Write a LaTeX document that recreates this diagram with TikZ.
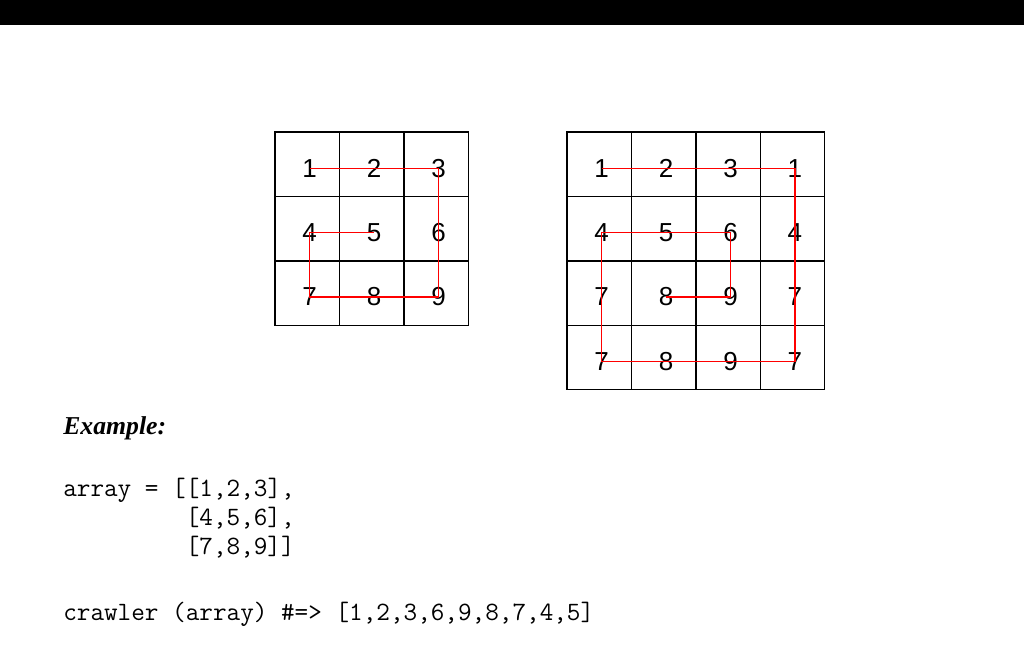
\documentclass[tikz,border=0pt]{standalone}
\usepackage{fontspec}
\setmainfont{Liberation Sans}
\newfontfamily\titleface{Liberation Serif}

\begin{document}
\begin{tikzpicture}[x = 0.025cm, y = -0.025cm]
	\tikzstyle{cellStyle} = [inner sep = 0pt, font = \fontsize{18.5}{18.5}\selectfont]
	\tikzstyle{gridStyle} = [draw = black, line width = 1pt]
	\tikzstyle{pathStyle} = [draw = red, line width = 1pt]
	\tikzstyle{codeStyle} = [anchor = base west, inner sep = 0pt, font = \fontsize{18.8}{18.8}\ttfamily]
	\useasboundingbox (0,0) rectangle (1024,665);
	\fill[black] (0,0) rectangle (1024,25);
	% left grid
	\draw[gridStyle] (275,132) rectangle (468.2,325.2);
	\draw[gridStyle] (339.4,132) -- (339.4,325.2);
	\draw[gridStyle] (403.8,132) -- (403.8,325.2);
	\draw[gridStyle] (275,196.4) -- (468.2,196.4);
	\draw[gridStyle] (275,260.8) -- (468.2,260.8);
	\node[cellStyle] (l0) at (309.7,168.2) {1};
	\node[cellStyle] (l1) at (374.1,168.2) {2};
	\node[cellStyle] (l2) at (438.5,168.2) {3};
	\node[cellStyle] (l3) at (309.7,232.6) {4};
	\node[cellStyle] (l4) at (374.1,232.6) {5};
	\node[cellStyle] (l5) at (438.5,232.6) {6};
	\node[cellStyle] (l6) at (309.7,297.0) {7};
	\node[cellStyle] (l7) at (374.1,297.0) {8};
	\node[cellStyle] (l8) at (438.5,297.0) {9};
	\draw[pathStyle] (l0.center) -- (l2.center) -- (l8.center) -- (l6.center) -- (l3.center) -- (l4.center);
	% right grid
	\draw[gridStyle] (567,132) rectangle (824.6,389.6);
	\draw[gridStyle] (631.4,132) -- (631.4,389.6);
	\draw[gridStyle] (695.8,132) -- (695.8,389.6);
	\draw[gridStyle] (760.2,132) -- (760.2,389.6);
	\draw[gridStyle] (567,196.4) -- (824.6,196.4);
	\draw[gridStyle] (567,260.8) -- (824.6,260.8);
	\draw[gridStyle] (567,325.2) -- (824.6,325.2);
	\node[cellStyle] (r0) at (601.7,168.2) {1};
	\node[cellStyle] (r1) at (666.1,168.2) {2};
	\node[cellStyle] (r2) at (730.5,168.2) {3};
	\node[cellStyle] (r3) at (794.9,168.2) {1};
	\node[cellStyle] (r4) at (601.7,232.6) {4};
	\node[cellStyle] (r5) at (666.1,232.6) {5};
	\node[cellStyle] (r6) at (730.5,232.6) {6};
	\node[cellStyle] (r7) at (794.9,232.6) {4};
	\node[cellStyle] (r8) at (601.7,297.0) {7};
	\node[cellStyle] (r9) at (666.1,297.0) {8};
	\node[cellStyle] (r10) at (730.5,297.0) {9};
	\node[cellStyle] (r11) at (794.9,297.0) {7};
	\node[cellStyle] (r12) at (601.7,361.4) {7};
	\node[cellStyle] (r13) at (666.1,361.4) {8};
	\node[cellStyle] (r14) at (730.5,361.4) {9};
	\node[cellStyle] (r15) at (794.9,361.4) {7};
	\draw[pathStyle] (r0.center) -- (r3.center) -- (r15.center) -- (r12.center) -- (r4.center) -- (r6.center) -- (r10.center) -- (r9.center);
	% example text
	\node[anchor = base west, inner sep = 0pt, font = \fontsize{18.3}{18.3}\titleface\bfseries\itshape] (title) at (63,434) {Example:};
	\node[codeStyle] (code1) at (63,496) {array = [[1,2,3],};
	\node[codeStyle] (code2) at (63,525) {\phantom{array = [}[4,5,6],};
	\node[codeStyle] (code3) at (63,554) {\phantom{array = [}[7,8,9]]};
	\node[codeStyle] (code4) at (63,620) {crawler (array) \#=> [1,2,3,6,9,8,7,4,5]};
\end{tikzpicture}
\end{document}
